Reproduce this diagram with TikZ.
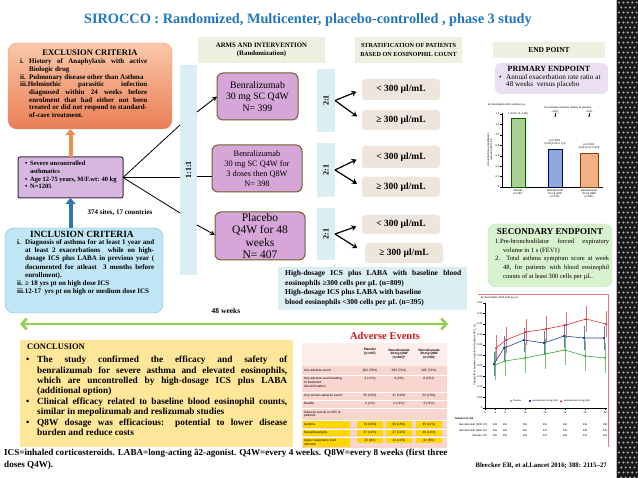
\documentclass[tikz,border=0pt]{standalone}
\usepackage{fontspec}
\setmainfont{Liberation Serif}
\setsansfont{Liberation Sans}
\usetikzlibrary{arrows.meta,calc}
\definecolor{titleblue}{RGB}{33,118,189}
\definecolor{exclA}{RGB}{250,200,170}
\definecolor{exclB}{RGB}{234,126,84}
\definecolor{exclD}{RGB}{240,150,110}
\definecolor{popfill}{RGB}{215,182,224}
\definecolor{popdraw}{RGB}{55,40,65}
\definecolor{inclfill}{RGB}{192,230,246}
\definecolor{incldraw}{RGB}{120,190,225}
\definecolor{hdrfill}{RGB}{235,241,222}
\definecolor{ratiofill}{RGB}{218,238,243}
\definecolor{armfill}{RGB}{214,166,216}
\definecolor{armdraw}{RGB}{115,95,45}
\definecolor{stratfill}{RGB}{238,229,221}
\definecolor{primfill}{RGB}{234,224,242}
\definecolor{secfill}{RGB}{216,241,206}
\definecolor{secdraw}{RGB}{185,228,170}
\definecolor{concfill}{RGB}{255,230,153}
\definecolor{arrgreen}{RGB}{146,208,80}
\definecolor{arrorange}{RGB}{240,140,80}
\definecolor{arrblue}{RGB}{46,117,182}
\definecolor{aered}{RGB}{215,25,25}
\definecolor{aepink}{RGB}{249,213,208}
\definecolor{aelight}{RGB}{253,238,235}
\definecolor{aeyellow}{RGB}{255,214,0}
\definecolor{chartpink}{RGB}{235,120,130}
\definecolor{cgreen}{RGB}{60,170,60}
\definecolor{cblue}{RGB}{30,70,150}
\definecolor{cred}{RGB}{220,50,50}
\definecolor{bgreen}{RGB}{169,208,142}
\definecolor{bblue}{RGB}{142,169,219}
\definecolor{borange}{RGB}{244,176,132}
\tikzset{
  plainbox/.style={inner sep=0pt, outer sep=0pt},
  hdrbox/.style={plainbox, fill=hdrfill, align=center, font=\fontsize{6.8}{8.5}\selectfont\bfseries},
  ratiobar/.style={plainbox, fill=ratiofill, font=\fontsize{8}{9}\selectfont\bfseries},
  armbox/.style={plainbox, fill=armfill, draw=armdraw, line width=1pt, rounded corners=6pt, align=center},
  stratbox/.style={plainbox, fill=stratfill, rounded corners=3pt, font=\fontsize{9.5}{11}\selectfont\bfseries},
  conn/.style={line width=0.8pt, black},
  armarrow/.style={line width=0.9pt, -{Stealth[length=5pt,width=5pt]}},
  forkarrow/.style={line width=1.2pt, -{Stealth[length=5pt,width=6pt]}},
  fatarrow/.style={line width=4pt, -{Triangle[length=6pt,width=10pt]}},
  chartfont/.style={font=\sffamily\fontsize{2.6}{3.1}\selectfont, inner sep=0pt},
  aefont/.style={font=\sffamily\fontsize{3.2}{3.8}\selectfont, inner sep=0pt, align=left},
  bodytext/.style={inner sep=0pt, anchor=north west, align=justify}
}
\begin{document}
\begin{tikzpicture}[x=1pt,y=-1pt]
\useasboundingbox (0,0) rectangle (638,478);
\fill[white] (0,0) rectangle (638,478);

% decorative right border
\fill[black!90] (616,0) rectangle (638,478);
\draw[gray!50, line width=0.6pt] (616.3,0) -- (616.3,478);
\foreach \r in {0,...,95}{\foreach \c in {0,...,4}{\fill[gray!60] ({619+\c*4.4+mod(\r,2)*2.2},{2.5+\r*5}) circle (1.1);}}

% title
\node[font=\fontsize{14.3}{17}\selectfont\bfseries, text=titleblue, inner sep=0pt] (title) at (308,20) {SIROCCO : Randomized, Multicenter, placebo-controlled , phase 3 study};

% exclusion
\node[plainbox, top color=exclA, bottom color=exclB, draw=exclD, rounded corners=9pt, minimum width=164pt, minimum height=86pt, anchor=north west] (excl) at (8,43) {};
\node[inner sep=0pt, font=\fontsize{8.5}{10}\selectfont\bfseries] (exclt) at (90,53) {EXCLUSION CRITERIA};
\node[bodytext, text width=127pt, font=\fontsize{7}{7.7}\selectfont\bfseries] (exclx) at (20,58.5) {%
\hangindent=9pt\hangafter=1\noindent\makebox[9pt][l]{i.}History of Anaphylaxis with active\linebreak Biologic drug\par
\hangindent=9pt\hangafter=1\noindent\makebox[9pt][l]{ii.}Pulmonary disease other than Asthma\par
\hangindent=9pt\hangafter=1\noindent iii.Helminthic parasitic infection\linebreak diagnosed within 24 weeks before\linebreak enrolment that had either not been\linebreak treated or did not respond to standard-\linebreak{}of-care treatment.\par};

% population
\node[plainbox, fill=popfill, draw=popdraw, line width=1pt, rounded corners=2pt, minimum width=105pt, minimum height=41pt, anchor=north west] (pop) at (18,157) {};
\node[inner sep=0pt, anchor=north west, align=left, font=\fontsize{6.5}{7.7}\selectfont\bfseries] (popx) at (25,161) {%
\makebox[5pt][l]{•}Severe uncontrolled\\\hspace*{5pt}asthmatics\\\makebox[5pt][l]{•}Age 12-75 years, M/F.wt: 40 kg\\\makebox[5pt][l]{•}N=1205};

% inclusion
\node[plainbox, fill=inclfill, draw=incldraw, rounded corners=9pt, minimum width=158pt, minimum height=85pt, anchor=north west] (incl) at (5,228) {};
\node[inner sep=0pt, font=\fontsize{9.5}{11}\selectfont\bfseries] (inclt) at (82,234) {INCLUSION CRITERIA};
\node[bodytext, text width=137pt, font=\fontsize{7}{8.3}\selectfont\bfseries] (inclx) at (17,239) {%
\hangindent=8pt\hangafter=1\noindent\makebox[8pt][l]{i.}Diagnosis of asthma for at least 1 year and\linebreak at least 2 exacerbations\ \ while on high-\linebreak{}dosage ICS plus LABA in previous year (\linebreak documented for atleast\ \ 3 months before\linebreak enrollment).\par
\noindent ii. ≥ 18 yrs pt on high dose ICS\par
\noindent iii.12-17\ \ yrs pt on high or medium dose ICS\par};

\node[inner sep=0pt, font=\fontsize{7}{8}\selectfont\bfseries] (sites) at (120,213) {374 sites, 17 countries};

% arrows up
\draw[fatarrow, arrorange] (pop.north) -- (pop.north |- excl.south);
\draw[fatarrow, arrblue] (pop.south |- incl.north) -- (pop.south);

% headers
\node[hdrbox, minimum width=127pt, minimum height=26pt, anchor=north west] (h1) at (198,37) {ARMS AND INTERVENTION\\(Randomization)};
\node[hdrbox, minimum width=107pt, minimum height=26pt, anchor=north west, font=\fontsize{6.2}{8.5}\selectfont\bfseries] (h2) at (355,37) {STRATIFICATION OF PATIENTS\\BASED ON EOSINOPHIL COUNT};
\node[hdrbox, minimum width=112pt, minimum height=16pt, anchor=north west, font=\fontsize{7.5}{8.5}\selectfont\bfseries] (h3) at (493,42) {END POINT};

% randomization bar
\node[ratiobar, minimum width=17pt, minimum height=210pt, anchor=north west] (r111) at (180,65) {\rotatebox{90}{1:1:1}};
\coordinate (fanA) at ($(r111.north west)+(0,60)$);
\coordinate (fanC) at ($(r111.north west)+(0,148)$);
\draw[conn] (pop.east) -- (fanA);
\draw[conn] (pop.east) -- (pop.east -| r111.west);
\draw[conn] (pop.east) -- (fanC);

% arms
\node[armbox, minimum width=81pt, minimum height=47pt, anchor=north west, font=\fontsize{9.8}{11.5}\selectfont] (arm1) at (217,73) {Benralizumab\\30 mg SC Q4W\\N= 399};
\node[armbox, minimum width=90pt, minimum height=47pt, anchor=north west, font=\fontsize{8.3}{10.2}\selectfont] (arm2) at (212,145) {Benralizumab\\30 mg SC Q4W for\\3 doses then Q8W\\N= 398};
\node[armbox, minimum width=90pt, minimum height=48pt, anchor=north west, font=\fontsize{11.5}{12.3}\selectfont] (arm3) at (215,212) {Placebo\\Q4W for 48\\weeks\\N= 407};
\coordinate (ar1) at ($(r111.north east)+(0,47)$);
\coordinate (ar2) at ($(r111.north east)+(0,111)$);
\coordinate (ar3) at ($(r111.north east)+(0,160)$);
\draw[armarrow] (ar1) -- (arm1.west);
\draw[conn] (ar2) -- (ar2 -| arm2.west);
\draw[armarrow] (ar3) -- ($(arm3.west)+(0,-1)$);

% 2:1 bars
\node[ratiobar, minimum width=18pt, minimum height=63pt, anchor=north west] (b1) at (317,69) {\rotatebox{90}{2:1}};
\node[ratiobar, minimum width=18pt, minimum height=54pt, anchor=north west] (b2) at (317,143) {\rotatebox{90}{2:1}};
\node[ratiobar, minimum width=18pt, minimum height=52pt, anchor=north west] (b3) at (317,208) {\rotatebox{90}{2:1}};

% strata
\node[stratbox, minimum width=78pt, minimum height=21pt, anchor=north west] (s1) at (362,79) {< 300 µl/mL};
\node[stratbox, minimum width=78pt, minimum height=20pt, anchor=north west] (s2) at (362,110) {≥ 300 µl/mL};
\node[stratbox, minimum width=78pt, minimum height=22pt, anchor=north west] (s3) at (362,146) {< 300 µl/mL};
\node[stratbox, minimum width=78pt, minimum height=20pt, anchor=north west] (s4) at (362,177) {≥ 300 µl/mL};
\node[stratbox, minimum width=78pt, minimum height=19pt, anchor=north west] (s5) at (362,215) {< 300 µl/mL};
\node[stratbox, minimum width=78pt, minimum height=20pt, anchor=north west] (s6) at (365,243) {≥ 300 µl/mL};
\draw[forkarrow, shorten >=6pt] (b1.east) -- (s1.west);
\draw[forkarrow, shorten >=6pt] (b1.east) -- (s2.west);
\draw[forkarrow, shorten >=6pt] (b2.east) -- (s3.west);
\draw[forkarrow, shorten >=6pt] (b2.east) -- (s4.west);
\draw[forkarrow, shorten >=6pt] (b3.east) -- (s5.west);
\draw[forkarrow, shorten >=9pt] (b3.east) -- (s6.west);

% eosinophil note
\node[plainbox, fill=ratiofill, minimum width=189pt, minimum height=43pt, anchor=north west] (note) at (278,267) {};
\node[bodytext, text width=176pt, font=\fontsize{7.5}{9.6}\selectfont\bfseries] (notex) at (285,270) {%
\noindent High-dosage ICS plus LABA with baseline blood\linebreak eosinophils ≥300 cells per µL (n=809)\par
\noindent High-dosage ICS plus LABA with baseline\\ blood eosinophils <300 cells per µL (n=395)\par};

% 48 weeks arrow
\coordinate (wkL) at (20,324);
\coordinate (wkR) at (448,324);
\draw[arrgreen, line width=2.6pt, {Straight Barb[length=5pt,width=11pt]}-{Straight Barb[length=5pt,width=11pt]}] (wkL) -- (wkR);
\node[inner sep=0pt, font=\fontsize{7.5}{9}\selectfont\bfseries] (wk) at (226,311) {48 weeks};

% primary endpoint
\node[plainbox, fill=primfill, rounded corners=6pt, minimum width=113pt, minimum height=31pt, anchor=north west] (prim) at (495,63) {};
\node[inner sep=0pt, font=\fontsize{8}{9}\selectfont\bfseries] (primt) at (549,69) {PRIMARY ENDPOINT};
\node[inner sep=0pt, anchor=north west, align=left, font=\fontsize{7.2}{7.6}\selectfont] (primx) at (499,74) {\makebox[7pt][l]{•}Annual exacerbation rate ratio at\\\hspace*{7pt}48 weeks\ \ versus placebo};

% bar chart
\node[chartfont, anchor=west] (bct) at (488,105) {\textbf{A}\ \ Eosinophils ≥300 cells per µL};
\draw[line width=0.3pt] (502,113) -- (502,187) -- (603,187);
\foreach \i/\l in {0/0,1/0·2,2/0·4,3/0·6,4/0·8,5/1·0,6/1·2,7/1·4}{
  \draw[line width=0.3pt] (500,{187-\i*10.43}) -- (502,{187-\i*10.43});
  \node[chartfont, anchor=east] (byl\i) at (499.5,{187-\i*10.43}) {\l};}
\node[chartfont, rotate=90, align=center] (byt) at (490,150) {Annual asthma exacerbation\\rate ratio (95\% CI)};
\fill[bgreen, draw=green!40!black, line width=0.3pt] (511,187) rectangle (525,117.7);
\fill[bblue, draw=blue!40!black, line width=0.3pt] (548,187) rectangle (562,148.9);
\fill[borange, draw=orange!50!black, line width=0.3pt] (580,187) rectangle (598,153.1);
\node[chartfont] (bv1) at (518,114) {1·33 (1·12–1·58)};
\node[chartfont, align=center] (bv2) at (555,142) {p=0·0001\\(0·55 [0·42–0·71])};
\node[chartfont, align=center] (bv3) at (589,146) {p<0·0001\\(0·49 [0·37–0·64])};
\node[chartfont] (bpr) at (568,108) {Percentage reduction relative to placebo};
\node[chartfont] (bp1) at (555,112) {–45\%};
\node[chartfont] (bp2) at (589,112) {–51\%};
\draw[line width=0.3pt, -{Stealth[length=1.5pt,width=1.5pt]}] (bp1.south) -- ++(0,4);
\draw[line width=0.3pt, -{Stealth[length=1.5pt,width=1.5pt]}] (bp2.south) -- ++(0,4);
\node[chartfont, align=center] (bx1) at (518,192) {Placebo\\(n=267)};
\node[chartfont, align=center] (bx2) at (555,194) {Benralizumab\\30 mg Q4W\\(n=275)};
\node[chartfont, align=center] (bx3) at (589,194) {Benralizumab\\30 mg Q8W\\(n=267)};

% secondary endpoint
\node[plainbox, fill=secfill, draw=secdraw, rounded corners=8pt, minimum width=124pt, minimum height=63pt, anchor=north west] (sec) at (488,224) {};
\node[inner sep=0pt, font=\fontsize{9}{10}\selectfont\bfseries] (sect) at (550,232) {SECONDARY ENDPOINT};
\node[bodytext, text width=114pt, font=\fontsize{6.5}{8.8}\selectfont] (secx) at (495,238.5) {%
\hangindent=8pt\hangafter=1\noindent 1.Pre-bronchodilator\ \ forced\ \ expiratory\linebreak volume in 1 s (FEV1)\par
\hangindent=8pt\hangafter=1\noindent 2. Total asthma symptom score at week\linebreak 48, for patients with blood eosinophil\linebreak counts of at least 300 cells per µL.\par};

% line chart
\draw[chartpink, line width=0.5pt] (478,294) -- (608,294) -- (608,447);
\node[chartfont, anchor=west] (lct) at (481,298) {\textbf{A}\ \ Eosinophils ≥300 cells per µL};
\draw[line width=0.3pt] (485,303) -- (485,408) -- (607,408);
\foreach \i/\l in {0/0·50,1/0·45,2/0·40,3/0·35,4/0·30,5/0·25,6/0·20,7/0·15,8/0·10,9/0·05,10/0}{
  \draw[line width=0.3pt] (483,{303+\i*10.5}) -- (485,{303+\i*10.5});
  \node[chartfont, anchor=east] (lyl\i) at (482.5,{303+\i*10.5}) {\l};}
\node[chartfont, rotate=90] (lyt) at (475,355) {Change from baseline in pre-bronchodilator FEV\textsubscript{1} (L)};
\foreach \w in {0,4,8,16,24,32,40,48}{
  \draw[line width=0.3pt] ({485+2.5*\w},408) -- ({485+2.5*\w},410);
  \node[chartfont] (lx\w) at ({485+2.5*\w},413) {\w};}
% error bars
\foreach \x/\y in {495/365,505/361,525/358,545/354,565/350,585/356,605/358}{\draw[cgreen!70, line width=0.25pt] (\x,{\y-15}) -- (\x,{\y+15});}
\foreach \x/\y in {494/364,504/348,524/340,544/343,564/336,584/338,604/338}{\draw[cblue!70, line width=0.25pt] (\x,{\y-12}) -- (\x,{\y+12});}
\foreach \x/\y in {496/348,506/340,526/332,546/329,566/325,586/319,606/324}{\draw[cred!70, line width=0.25pt] (\x,{\y-13}) -- (\x,{\y+13});}
\draw[cgreen, line width=0.6pt] (495,365) -- (505,361) -- (525,358) -- (545,354) -- (565,350) -- (585,356) -- (605,358);
\draw[cblue, line width=0.6pt] (494,364) -- (504,348) -- (524,340) -- (544,343) -- (564,336) -- (584,338) -- (604,338);
\draw[cred, line width=0.6pt] (496,348) -- (506,340) -- (526,332) -- (546,329) -- (566,325) -- (586,319) -- (606,324);
\foreach \x/\y in {495/365,505/361,525/358,545/354,565/350,585/356,605/358}{\fill[cgreen] (\x,\y) circle (1.1);}
\foreach \x/\y in {494/364,504/348,524/340,544/343,564/336,584/338,604/338}{\fill[cblue] ({\x-1.1},{\y-1.1}) rectangle ({\x+1.1},{\y+1.1});}
\foreach \x/\y in {496/348,506/340,526/332,546/329,566/325,586/319,606/324}{\fill[cred] (\x,{\y-1.3}) -- ({\x+1.2},{\y+0.9}) -- ({\x-1.2},{\y+0.9}) -- cycle;}
% legend
\fill[cgreen] (511,401) circle (1);
\node[chartfont, anchor=west, font=\sffamily\fontsize{2.2}{2.6}\selectfont] (lg1) at (513,401) {Placebo};
\fill[cblue] (528.5,400) rectangle (530.5,402);
\node[chartfont, anchor=west, font=\sffamily\fontsize{2.2}{2.6}\selectfont] (lg2) at (532,401) {Benralizumab 30 mg Q4W};
\fill[cred] (561,399.8) -- (562.2,402) -- (559.8,402) -- cycle;
\node[chartfont, anchor=west, font=\sffamily\fontsize{2.2}{2.6}\selectfont] (lg3) at (564,401) {Benralizumab 30 mg Q8W};
% number at risk
\node[chartfont, anchor=west] (nar) at (455,419) {\textbf{Number at risk}};
\node[chartfont, anchor=east] (nr1) at (482,425) {Benralizumab Q4W};
\node[chartfont, anchor=east] (nr2) at (482,430.5) {Benralizumab Q8W};
\node[chartfont, anchor=east] (nr3) at (482,436) {Placebo};
\foreach \w/\a/\b/\c in {0/275/267/267,4/263/255/260,8/262/258/255,16/253/250/249,24/251/247/247,32/246/243/238,40/245/238/232,48/238/235/233}{
  \node[chartfont] (na\w) at ({485+2.5*\w},425) {\a};
  \node[chartfont] (nb\w) at ({485+2.5*\w},430.5) {\b};
  \node[chartfont] (nc\w) at ({485+2.5*\w},436) {\c};}

% adverse events
\node[inner sep=0pt, text=aered, font=\fontsize{10.5}{12}\selectfont\bfseries] (aet) at (385,336) {Adverse Events};
\fill[aelight] (302,343) rectangle (447,366);
\fill[aepink] (302,366) rectangle (447,448);
\foreach \yy in {375,392,400,408,420,429,437}{\draw[white, line width=0.8pt] (302,\yy) -- (447,\yy);}
\foreach \ya/\yb in {421/428,430/436.5,438/447}{\fill[aeyellow] (303,\ya) rectangle (350,\yb);}
\foreach \ya/\yb in {421/428,430/436.5,438/443.5}{
  \fill[aeyellow] (357,\ya) rectangle (383,\yb);
  \fill[aeyellow] (386,\ya) rectangle (412,\yb);
  \fill[aeyellow] (416,\ya) rectangle (442,\yb);}
\node[aefont, align=center, font=\sffamily\bfseries\fontsize{3.2}{3.8}\selectfont] (aeh1) at (370,352) {Placebo\\(n=407)};
\node[aefont, align=center, font=\sffamily\bfseries\fontsize{3.2}{3.8}\selectfont] (aeh2) at (399,354) {Benralizumab\\30 mg Q4W\\(n=403)*};
\node[aefont, align=center, font=\sffamily\bfseries\fontsize{3.2}{3.8}\selectfont] (aeh3) at (429,354) {Benralizumab\\30 mg Q8W\\(n=394)};
\node[aefont, anchor=north west] (ael1) at (304,369) {Any adverse event};
\node[aefont, anchor=north west] (ael2) at (304,377) {Any adverse event leading\\to treatment\\discontinuation};
\node[aefont, anchor=north west] (ael3) at (304,394) {Any serious adverse event};
\node[aefont, anchor=north west] (ael4) at (304,402) {Deaths};
\node[aefont, anchor=north west] (ael5) at (304,410.5) {Adverse events in ≥3\% of\\patients};
\node[aefont, anchor=north west] (ael6) at (304,422.5) {Asthma};
\node[aefont, anchor=north west] (ael7) at (304,431) {Nasopharyngitis};
\node[aefont, anchor=north west] (ael8) at (304,439) {Upper respiratory tract\\infection};
\foreach \n/\y/\a/\b/\c in {1/369/303 (76\%)/293 (73\%)/285 (72\%),2/377/3 (<1\%)/9 (2\%)/8 (2\%)†,3/394/55 (14\%)/47 (12\%)/52 (13\%),4/402/2 (1\%)/2 (<1\%)/3 (<1\%),6/422.5/78 (19\%)/60 (15\%)/45 (11\%),7/431/47 (12\%)/47 (12\%)/46 (12\%),8/439/35 (9\%)/44 (11\%)/32 (8\%)}{
  \node[aefont, anchor=north] (aea\n) at (370,\y) {\a};
  \node[aefont, anchor=north] (aeb\n) at (399,\y) {\b};
  \node[aefont, anchor=north] (aec\n) at (429,\y) {\c};}

% conclusion
\node[plainbox, fill=concfill, minimum width=273pt, minimum height=107pt, anchor=north west] (conc) at (20,340) {};
\node[inner sep=0pt, anchor=west, font=\fontsize{8.5}{10}\selectfont\bfseries] (conct) at (27,347) {CONCLUSION};
\node[bodytext, text width=261pt, font=\fontsize{9.3}{10.4}\selectfont\bfseries] (concx) at (26,356) {%
\hangindent=11pt\hangafter=1\noindent\makebox[11pt][l]{•}The\ \ study\ \ confirmed\ \ the\ \ efficacy\ \ and\ \ safety\ \ of\linebreak benralizumab for severe asthma and elevated eosinophils,\linebreak which are uncontrolled by high-dosage ICS plus LABA\linebreak (additional option)\par
\hangindent=11pt\hangafter=1\noindent\makebox[11pt][l]{•}Clinical efficacy related to baseline blood eosinophil counts,\linebreak similar in mepolizumab and reslizumab studies\par
\hangindent=11pt\hangafter=1\noindent\makebox[11pt][l]{•}Q8W dosage was efficacious: potential to lower disease\linebreak burden and reduce costs\par};

% footnote and citation
\node[inner sep=0pt, anchor=north west, align=left, font=\fontsize{9.1}{11.5}\selectfont\bfseries] (foot) at (4,449) {ICS=inhaled corticosteroids. LABA=long-acting â2-agonist. Q4W=every 4 weeks. Q8W=every 8 weeks (first three\\doses Q4W).};
\node[inner sep=0pt, anchor=east, font=\fontsize{6.8}{8}\selectfont\bfseries] (cite) at (607,466) {Bleecker ER, et al.Lancet 2016; 388: 2115–27};
\end{tikzpicture}
\end{document}
